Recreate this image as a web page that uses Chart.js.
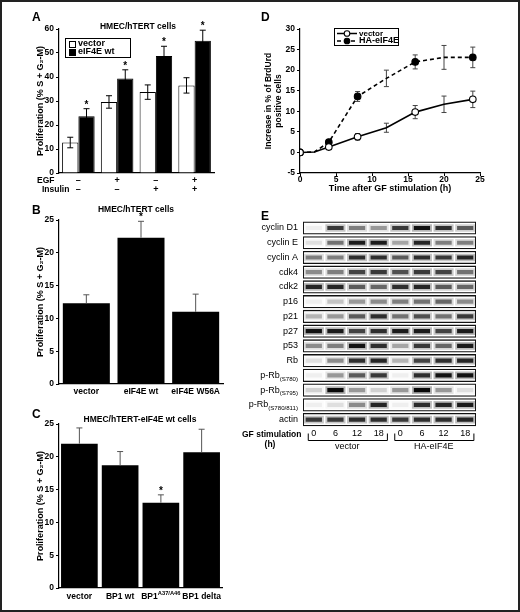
<!DOCTYPE html>
<html>
<head><meta charset="utf-8"><title>eIF4E proliferation</title>
<script src="https://cdn.jsdelivr.net/npm/chart.js"></script>
<style>
 body{margin:0;background:#fff;font-family:'Liberation Sans',Arial,sans-serif;}
 #fig{position:relative;width:520px;height:612px;overflow:hidden;background:#fff;}
 #frame{position:absolute;left:0;top:0;width:520px;height:612px;box-sizing:border-box;border:2px solid #222;pointer-events:none;}
 canvas{position:absolute;}
 .lbl{position:absolute;font-weight:bold;color:#000;white-space:nowrap;line-height:1;}
 .letter{font-size:12px;}
 .ttl{font-size:8.5px;transform:translateX(-50%);}
 .sm{font-size:8.5px;}
</style>
</head>
<body>
<div id="fig">
  <canvas id="cA" width="230" height="200" style="left:0;top:0"></canvas>
  <canvas id="cB" width="240" height="200" style="left:0;top:200px"></canvas>
  <canvas id="cC" width="240" height="212" style="left:0;top:395px"></canvas>
  <canvas id="cD" width="250" height="200" style="left:260px;top:0"></canvas>
  <canvas id="cE" width="275" height="250" style="left:235px;top:210px"></canvas>

  <div class="lbl letter" style="left:32px;top:11px">A</div>
  <div class="lbl letter" style="left:32px;top:204px">B</div>
  <div class="lbl letter" style="left:32px;top:408px">C</div>
  <div class="lbl letter" style="left:261px;top:11px">D</div>
  <div class="lbl letter" style="left:261px;top:210px">E</div>

  <div class="lbl ttl" style="left:138px;top:22px">HMEC/hTERT cells</div>
  <div class="lbl ttl" style="left:136px;top:205px">HMEC/hTERT cells</div>
  <div class="lbl ttl" style="left:140px;top:415px">HMEC/hTERT-eIF4E wt cells</div>

  <div class="lbl sm" style="left:37px;top:176px">EGF</div>
  <div class="lbl sm" style="left:42px;top:185px">Insulin</div>

  <div class="lbl sm" style="left:242px;top:429px;width:56px;text-align:center;line-height:10px">GF stimulation<br>(h)</div>
  <div id="frame"></div>
</div>
<script>
// ---- panel A: proliferation with growth factors
const condLabels = [['–','–'], ['+','–'], ['–','+'], ['+','+']];
const vectorA = [12.7, 29.6, 33.7, 36.5];
const vectorAErr = [2.2, 2.6, 3.0, 3.2];
const eif4eA = [23.6, 39.4, 48.8, 55.1];
const eif4eAErr = [3.2, 3.6, 4.0, 4.4];
const starsA = [true, true, true, true];

// ---- panel B
const catsB = ['vector', 'eIF4E wt', 'eIF4E W56A'];
const valsB = [12.3, 22.3, 11.0];
const errB = [1.3, 2.5, 2.7];
const starsB = [false, true, false];

// ---- panel C ('^' marks superscript)
const catsC = ['vector', 'BP1 wt', 'BP1^A37/A46', 'BP1 delta'];
const valsC = [22.0, 18.7, 13.0, 20.7];
const errC = [2.4, 2.1, 1.2, 3.5];
const starsC = [false, false, true, false];

// ---- panel D: BrdUrd time course
const timeH = [0, 2, 4, 8, 12, 16, 20, 24];
const markerTimes = [0, 4, 8, 16, 24];
const vectorD = [0, 0.1, 1.3, 3.8, 6.0, 9.8, 11.7, 12.9];
const vectorDErr = [null, null, 0.4, 0.8, 1.1, 1.6, 2.0, 2.0];
const eif4eD = [0, 0.1, 2.5, 13.6, 18.0, 22.0, 23.1, 23.1];
const eif4eDErr = [null, null, 0.5, 1.2, 2.0, 1.7, 2.9, 2.5];

// ---- panel E: western blots ('_' marks subscript), band strength 0..1 per lane
const blotRows = ['cyclin D1', 'cyclin E', 'cyclin A', 'cdk4', 'cdk2', 'p16', 'p21', 'p27', 'p53', 'Rb',
                  'p-Rb_(S780)', 'p-Rb_(S795)', 'p-Rb_(S780/811)', 'actin'];
const blotLanes = [0, 6, 12, 18, 0, 6, 12, 18];
const laneGroups = ['vector', 'HA-eIF4E'];
const blotBands = [
  [0.05, 0.75, 0.45, 0.35, 0.75, 0.95, 0.80, 0.60],
  [0.10, 0.50, 0.90, 0.90, 0.30, 0.85, 0.45, 0.45],
  [0.45, 0.45, 0.80, 0.80, 0.60, 0.80, 0.75, 0.85],
  [0.40, 0.45, 0.70, 0.75, 0.65, 0.75, 0.70, 0.50],
  [0.85, 0.85, 0.60, 0.55, 0.80, 0.85, 0.60, 0.55],
  [0.05, 0.20, 0.35, 0.40, 0.45, 0.50, 0.55, 0.40],
  [0.25, 0.35, 0.60, 0.80, 0.50, 0.65, 0.50, 0.75],
  [0.95, 0.90, 0.70, 0.80, 0.90, 0.90, 0.70, 0.90],
  [0.40, 0.45, 0.95, 0.80, 0.30, 0.75, 0.55, 0.90],
  [0.10, 0.40, 0.80, 0.85, 0.25, 0.70, 0.80, 0.85],
  [0.05, 0.35, 0.60, 0.75, 0.05, 0.80, 0.95, 0.95],
  [0.15, 1.00, 0.35, 0.15, 0.35, 1.00, 0.35, 0.10],
  [0.05, 0.10, 0.40, 0.85, 0.05, 0.80, 0.85, 0.90],
  [0.75, 0.75, 0.80, 0.80, 0.75, 0.80, 0.80, 0.85]
];

const FONT = "'Liberation Sans', Arial, sans-serif";
Chart.defaults.font.family = FONT;
Chart.defaults.font.size = 8.5;
Chart.defaults.font.weight = 'bold';
Chart.defaults.color = '#000';
Chart.defaults.animation = false;
Chart.defaults.plugins.legend.display = false;
Chart.defaults.plugins.tooltip.enabled = false;

function drawRich(ctx, s, x, y, align, size, weight) {
  const m = s.match(/^([^_^]*)([_^])(.*)$/);
  const parts = m ? [[m[1], 0], [m[3], m[2] === '^' ? -1 : 1]] : [[s, 0]];
  const fonts = parts.map(p => weight + ' ' + (p[1] ? size * 0.68 : size) + 'px ' + FONT);
  let w = 0;
  parts.forEach((p, i) => { ctx.font = fonts[i]; w += ctx.measureText(p[0]).width; });
  let cx = align === 'right' ? x - w : align === 'center' ? x - w / 2 : x;
  ctx.textAlign = 'left';
  ctx.textBaseline = 'middle';
  parts.forEach((p, i) => {
    ctx.font = fonts[i];
    ctx.fillText(p[0], cx, y + p[1] * size * 0.38);
    cx += ctx.measureText(p[0]).width;
  });
}

function errorBars(sets, before) {
  const draw = chart => {
    const ctx = chart.ctx, ys = chart.scales.y;
    sets.forEach(s => {
      const meta = chart.getDatasetMeta(s.ds);
      const vals = chart.data.datasets[s.ds].data;
      ctx.save();
      ctx.strokeStyle = s.color;
      ctx.lineWidth = 1;
      meta.data.forEach((el, i) => {
        const e = s.err[i];
        if (e == null) return;
        const v = typeof vals[i] === 'object' ? vals[i].y : vals[i];
        const top = ys.getPixelForValue(v + e);
        const bot = s.both ? ys.getPixelForValue(v - e) : el.y;
        ctx.beginPath();
        ctx.moveTo(el.x, top); ctx.lineTo(el.x, bot);
        ctx.moveTo(el.x - s.cap, top); ctx.lineTo(el.x + s.cap, top);
        if (s.both) { ctx.moveTo(el.x - s.cap, bot); ctx.lineTo(el.x + s.cap, bot); }
        ctx.stroke();
        if (s.stars && s.stars[i]) {
          ctx.fillStyle = '#000';
          ctx.font = 'bold 10px ' + FONT;
          ctx.textAlign = 'center';
          ctx.textBaseline = 'alphabetic';
          ctx.fillText('*', el.x, top - 1);
        }
      });
      ctx.restore();
    });
  };
  return before ? { id: 'eb', beforeDatasetsDraw: draw } : { id: 'eb', afterDatasetsDraw: draw };
}

function yAxis(max, step, title, width) {
  return {
    min: 0, max: max,
    ticks: { stepSize: step, padding: 2 },
    grid: { display: true, drawOnChartArea: false, tickLength: 3, color: '#000' },
    border: { color: '#000', width: 1.2 },
    title: { display: true, text: title, font: { size: 9, weight: 'bold' }, padding: 0 },
    afterFit: s => { s.width = width; }
  };
}

const prolifTitle = 'Proliferation (% S + G₂-M)';

// legend box for A
const legendA = { id: 'legendA', afterDraw(chart) {
  const ctx = chart.ctx, a = chart.chartArea;
  const x = a.left + 6, y = a.top + 9;
  ctx.save();
  ctx.strokeStyle = '#000'; ctx.lineWidth = 1;
  ctx.strokeRect(x + 0.5, y + 0.5, 65, 19);
  chart.data.datasets.forEach((ds, i) => {
    const cy = y + 6 + i * 8;
    ctx.fillStyle = ds.backgroundColor;
    ctx.fillRect(x + 4, cy - 3, 6, 6);
    ctx.strokeRect(x + 4.5, cy - 2.5, 6, 6);
    ctx.fillStyle = '#000';
    ctx.font = 'bold 9px ' + FONT;
    ctx.textAlign = 'left'; ctx.textBaseline = 'middle';
    ctx.fillText(ds.label, x + 13, cy);
  });
  ctx.restore();
}};

new Chart(document.getElementById('cA'), {
  type: 'bar',
  data: { labels: condLabels, datasets: [
    { label: 'vector', data: vectorA, backgroundColor: '#fff', borderColor: '#000', borderWidth: 1,
      categoryPercentage: 0.84, barPercentage: 1 },
    { label: 'eIF4E wt', data: eif4eA, backgroundColor: '#000', borderColor: '#000', borderWidth: 1,
      categoryPercentage: 0.84, barPercentage: 1 }
  ]},
  options: {
    responsive: false,
    layout: { padding: { left: 35, top: 29, right: 16, bottom: 0 } },
    scales: {
      x: { ticks: { padding: 3, font: { size: 9, weight: 'bold', lineHeight: 1 } },
           grid: { display: false, drawTicks: false }, border: { color: '#000', width: 1.2 },
           afterFit: s => { s.height = 27; } },
      y: yAxis(60, 10, prolifTitle, 24)
    }
  },
  plugins: [errorBars([
    { ds: 0, err: vectorAErr, both: true, cap: 3, color: '#000' },
    { ds: 1, err: eif4eAErr, both: true, cap: 3, color: '#000', stars: starsA }
  ]), legendA]
});

new Chart(document.getElementById('cB'), {
  type: 'bar',
  data: { labels: catsB, datasets: [
    { label: 'HMEC/hTERT', data: valsB, backgroundColor: '#000', barPercentage: 0.86, categoryPercentage: 1 }
  ]},
  options: {
    responsive: false,
    layout: { padding: { left: 35, top: 20, right: 17, bottom: 0 } },
    scales: {
      x: { ticks: { padding: 2.5 }, grid: { display: false, drawTicks: false }, border: { color: '#000', width: 1.2 },
           afterFit: s => { s.height = 16; } },
      y: yAxis(25, 5, prolifTitle, 24)
    }
  },
  plugins: [errorBars([{ ds: 0, err: errB, both: false, cap: 3, color: '#555', stars: starsB }])]
});

const richX = { id: 'richX', afterDraw(chart) {
  const xs = chart.scales.x, ctx = chart.ctx;
  ctx.save();
  ctx.fillStyle = '#000';
  chart.data.labels.forEach((l, i) => drawRich(ctx, l, xs.getPixelForTick(i), xs.top + 8.5, 'center', 8.5, 'bold'));
  ctx.restore();
}};

new Chart(document.getElementById('cC'), {
  type: 'bar',
  data: { labels: catsC, datasets: [
    { label: 'HMEC/hTERT-eIF4E wt', data: valsC, backgroundColor: '#000', barPercentage: 0.9, categoryPercentage: 1 }
  ]},
  options: {
    responsive: false,
    layout: { padding: { left: 35, top: 29, right: 18, bottom: 0 } },
    scales: {
      x: { ticks: { display: false }, grid: { display: false, drawTicks: false }, border: { color: '#000', width: 1.2 },
           afterFit: s => { s.height = 19; } },
      y: yAxis(25, 5, prolifTitle, 24)
    }
  },
  plugins: [errorBars([{ ds: 0, err: errC, both: false, cap: 3, color: '#555', stars: starsC }]), richX]
});

// legend box for D
const legendD = { id: 'legendD', afterDraw(chart) {
  const ctx = chart.ctx, a = chart.chartArea;
  const x = a.left + 34, y = a.top - 1;
  ctx.save();
  ctx.strokeStyle = '#000'; ctx.lineWidth = 1;
  ctx.strokeRect(x + 0.5, y + 0.5, 64, 17);
  chart.data.datasets.forEach((ds, i) => {
    const cy = y + 5.5 + i * 7.5;
    ctx.strokeStyle = '#000'; ctx.lineWidth = 1.5;
    ctx.setLineDash(ds.borderDash || []);
    ctx.beginPath(); ctx.moveTo(x + 3, cy); ctx.lineTo(x + 23, cy); ctx.stroke();
    ctx.setLineDash([]);
    ctx.lineWidth = 1.1;
    ctx.beginPath(); ctx.arc(x + 13, cy, 2.8, 0, Math.PI * 2);
    ctx.fillStyle = ds.pointBackgroundColor; ctx.fill(); ctx.stroke();
    ctx.fillStyle = '#000';
    ctx.font = 'bold ' + (i ? 9 : 8) + 'px ' + FONT;
    ctx.textAlign = 'left'; ctx.textBaseline = 'middle';
    ctx.fillText(ds.label, x + 25, cy);
  });
  ctx.restore();
}};

const markerRadius = ctx => markerTimes.includes(timeH[ctx.dataIndex]) ? 3.3 : 0;

new Chart(document.getElementById('cD'), {
  type: 'line',
  data: { datasets: [
    { label: 'vector', data: timeH.map((t, i) => ({ x: t, y: vectorD[i] })),
      borderColor: '#000', borderWidth: 1.6, pointBackgroundColor: '#fff', pointBorderColor: '#000',
      pointBorderWidth: 1.1, pointRadius: markerRadius, tension: 0 },
    { label: 'HA-eIF4E', data: timeH.map((t, i) => ({ x: t, y: eif4eD[i] })),
      borderColor: '#000', borderWidth: 1.6, borderDash: [4, 3], pointBackgroundColor: '#000', pointBorderColor: '#000',
      pointBorderWidth: 1.1, pointRadius: markerRadius, tension: 0 }
  ]},
  options: {
    responsive: false,
    layout: { padding: { left: 0, top: 29, right: 30, bottom: 6 } },
    scales: {
      x: { type: 'linear', min: 0, max: 25,
           ticks: { stepSize: 5, padding: -1 },
           grid: { display: true, drawOnChartArea: false, tickLength: 3, color: '#000' },
           border: { color: '#000', width: 1.2 },
           title: { display: true, text: 'Time after GF stimulation (h)', font: { size: 9, weight: 'bold' }, padding: 0 },
           afterFit: s => { s.height = 21; } },
      y: { min: -5, max: 30,
           ticks: { stepSize: 5, padding: 2 },
           grid: { display: true, drawOnChartArea: false, tickLength: 3, color: '#000' },
           border: { color: '#000', width: 1.2 },
           title: { display: true, text: ['Increase in % of BrdUrd', 'positive cells'], font: { size: 8.5, weight: 'bold', lineHeight: 1.15 }, padding: { top: 4, bottom: 0 } },
           afterFit: s => { s.width = 40; } }
    }
  },
  plugins: [errorBars([
    { ds: 0, err: vectorDErr, both: true, cap: 2.5, color: '#444' },
    { ds: 1, err: eif4eDErr, both: true, cap: 2.5, color: '#444' }
  ], true), legendD]
});

// panel E: blots as floating bars on lane scale
const blotDecor = { id: 'blotDecor', afterDraw(chart) {
  const ctx = chart.ctx, xs = chart.scales.x, ys = chart.scales.y, a = chart.chartArea;
  ctx.save();
  ctx.fillStyle = '#000';
  blotRows.forEach((r, i) => drawRich(ctx, r, a.left - 5, ys.getPixelForValue(i), 'right', 9, 'normal'));
  ctx.strokeStyle = '#000'; ctx.lineWidth = 1;
  laneGroups.forEach((g, gi) => {
    const x1 = xs.getPixelForValue(gi * 4 + 0.22), x2 = xs.getPixelForValue(gi * 4 + 3.88);
    const y = a.bottom + 13.5;
    ctx.beginPath();
    ctx.moveTo(x1 + 0.5, y - 7); ctx.lineTo(x1 + 0.5, y); ctx.lineTo(x2 + 0.5, y); ctx.lineTo(x2 + 0.5, y - 7);
    ctx.stroke();
    drawRich(ctx, g, (x1 + x2) / 2, y + 6.5, 'center', 9, 'normal');
  });
  ctx.restore();
}};

const boxDs = { data: blotRows.map(() => [0, 8]), backgroundColor: '#fff', borderColor: '#111', borderWidth: 1.3,
                borderSkipped: false, barThickness: 12.5, grouped: false, order: 3 };
const haloDs = blotLanes.map((t, l) => ({
  data: blotRows.map(() => [l + 0.05, l + 0.95]),
  backgroundColor: blotBands.map(r => 'rgba(0,0,0,' + (r[l] * 0.3).toFixed(3) + ')'),
  barThickness: 7, grouped: false, order: 2 }));
const coreDs = blotLanes.map((t, l) => ({
  data: blotRows.map(() => [l + 0.14, l + 0.86]),
  backgroundColor: blotBands.map(r => 'rgba(0,0,0,' + Math.min(1, r[l] * 0.95).toFixed(3) + ')'),
  barThickness: 3.5, grouped: false, order: 1 }));

new Chart(document.getElementById('cE'), {
  type: 'bar',
  data: { labels: blotRows, datasets: [boxDs].concat(haloDs, coreDs) },
  options: {
    indexAxis: 'y',
    responsive: false,
    layout: { padding: { left: 0, top: 10.6, right: 34, bottom: 10 } },
    scales: {
      x: { type: 'linear', min: 0, max: 8,
           afterBuildTicks: ax => { ax.ticks = blotLanes.map((t, i) => ({ value: i + 0.5 })); },
           ticks: { autoSkip: false, padding: 1.5, font: { size: 9, weight: 'normal' }, callback: (v, i) => blotLanes[i] },
           grid: { display: false, drawTicks: false }, border: { display: false },
           afterFit: s => { s.height = 23; } },
      y: { ticks: { display: false }, grid: { display: false, drawTicks: false }, border: { display: false },
           afterFit: s => { s.width = 68; } }
    }
  },
  plugins: [blotDecor]
});
</script>
</body>
</html>
